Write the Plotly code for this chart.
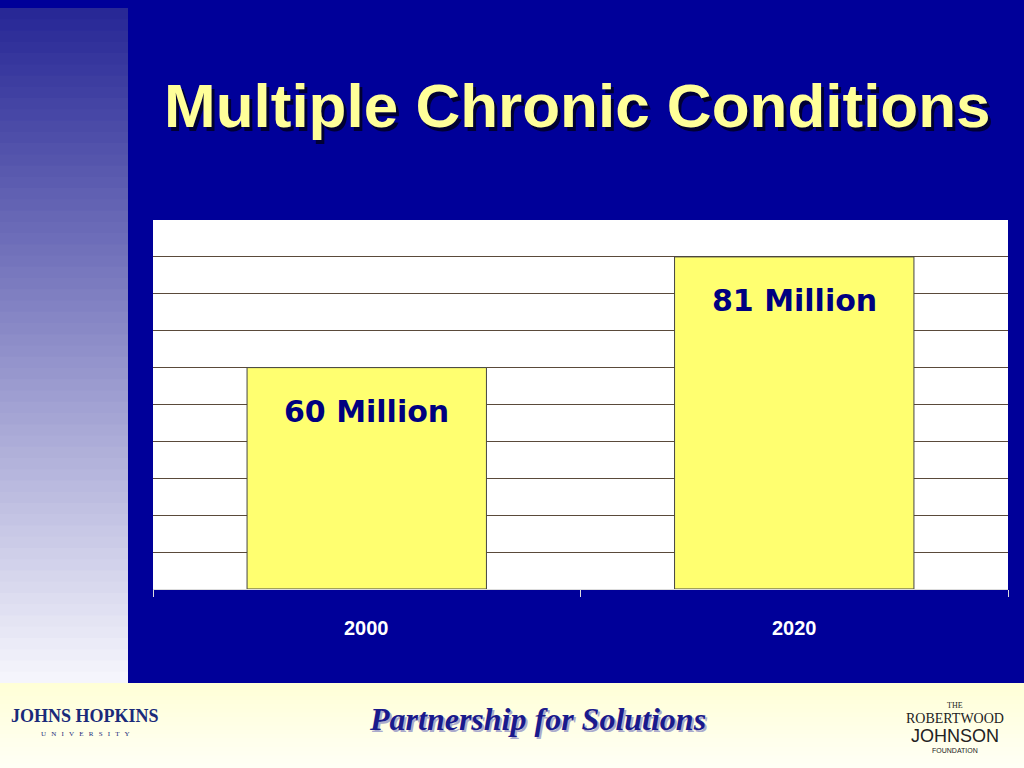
import plotly.graph_objects as go

# chart data
years = ["2000", "2020"]
bar_heights = [60, 90]          # heights as drawn on the slide's 0-100 grid
bar_labels = ["60 Million", "81 Million"]

title_text = "Multiple Chronic Conditions"
footer_text = "Partnership for Solutions"

W, H = 1024, 768


def mix(c1, c2, t):
    return "rgb(%d,%d,%d)" % tuple(round(a + (b - a) * t) for a, b in zip(c1, c2))


shapes = []
# left gradient strip (decoration)
n = 60
top_c, bot_c = (40, 40, 150), (245, 245, 252)
for i in range(n):
    y0 = 1 - 8 / H - i * (675 / H) / n
    y1 = y0 - (675 / H) / n
    shapes.append(dict(type="rect", xref="paper", yref="paper", x0=0, x1=128 / W,
                       y0=y1 - 0.001, y1=y0, line_width=0, fillcolor=mix(top_c, bot_c, i / (n - 1)),
                       layer="below"))
# bottom cream band (decoration)
m = 20
for i in range(m):
    y1 = (85 / H) * (1 - i / m)
    y0 = y1 - (85 / H) / m
    shapes.append(dict(type="rect", xref="paper", yref="paper", x0=0, x1=1,
                       y0=max(y0 - 0.001, 0), y1=y1, line_width=0,
                       fillcolor=mix((255, 255, 215), (255, 255, 245), i / (m - 1)),
                       layer="below"))

fig = go.Figure()
fig.add_trace(go.Bar(
    x=years,
    y=bar_heights,
    marker=dict(color="#FFFF70", line=dict(color="#444444", width=1)),
    hoverinfo="skip",
))


def paper_note(text, x, y, size, color, family="Liberation Sans"):
    return dict(text=text, x=x / W, y=1 - y / H, xref="paper", yref="paper",
                xanchor="center", yanchor="middle", showarrow=False,
                font=dict(family=family, size=size, color=color))


annotations = [
    paper_note("<b>" + title_text + "</b>", 580, 109, 62, "#000033"),
    paper_note("<b>" + title_text + "</b>", 577, 105, 62, "#FFFF99"),
    paper_note("<b><i>" + footer_text + "</i></b>", 539, 721, 32, "#AAAACC", "Liberation Serif"),
    paper_note("<b><i>" + footer_text + "</i></b>", 537, 719, 32, "#1A1A8C", "Liberation Serif"),
    paper_note("<b>JOHNS HOPKINS</b>", 85, 716, 18, "#1A2A7A", "Liberation Serif"),
    paper_note("U   N   I   V   E   R   S   I   T   Y", 85, 734, 7, "#1A2A7A", "Liberation Serif"),
    paper_note("THE", 955, 705, 8, "#222222", "Liberation Serif"),
    paper_note("ROBERTWOOD", 955, 718, 14, "#222222", "Liberation Serif"),
    paper_note("JOHNSON", 955, 736, 18, "#222222"),
    paper_note("FOUNDATION", 955, 750, 7, "#222222"),
]
# value labels placed at each bar top, drawn through the data axes
# (category index used so annotations don't stretch the category range)
for i, (h, lab) in enumerate(zip(bar_heights, bar_labels)):
    annotations.append(dict(x=i, y=h, xref="x", yref="y", text="<b>" + lab + "</b>",
                            showarrow=False, xanchor="center", yanchor="top", yshift=-24,
                            font=dict(family="DejaVu Sans", size=30, color="#000080")))
    annotations.append(dict(x=i, y=0, xref="x", yref="y", text="<b>" + years[i] + "</b>",
                            showarrow=False, xanchor="center", yanchor="middle", yshift=-39,
                            font=dict(family="Liberation Sans", size=20, color="white")))

fig.update_layout(
    width=W, height=H,
    margin=dict(l=0, r=0, t=0, b=0),
    paper_bgcolor="#000099",
    plot_bgcolor="white",
    showlegend=False,
    bargap=0.44,
    shapes=shapes,
    annotations=annotations,
    xaxis=dict(type="category", domain=[153 / W, 1008 / W], tickson="boundaries",
               ticks="outside", ticklen=7, tickcolor="#DDDDDD", showline=True,
               linecolor="#DDDDDD", showgrid=False, showticklabels=False),
    yaxis=dict(domain=[1 - 589 / H, 1 - 220 / H], range=[0, 100], dtick=10,
               showticklabels=False, gridcolor="#5A4A3A", gridwidth=1, zeroline=False),
)

fig.write_html("out.html", config={"displayModeBar": False},
               post_script="document.body.style.margin='0';")
